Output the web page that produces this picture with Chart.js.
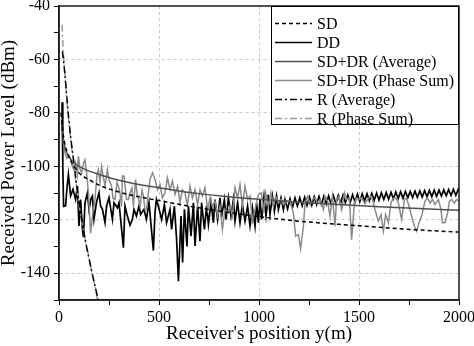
<!DOCTYPE html>
<html><head><meta charset="utf-8">
<script src="https://cdn.jsdelivr.net/npm/chart.js@4/dist/chart.umd.min.js"></script>
<style>html,body{margin:0;padding:0;background:#fff;}canvas{display:block;}</style>
</head><body>
<canvas id="c" width="474" height="346"></canvas>
<script>
// ---- data ----
const seriesNames = ["SD", "DD", "SD+DR (Average)", "SD+DR (Phase Sum)", "R (Average)", "R (Phase Sum)"];
const xTickLabels = [0, 500, 1000, 1500, 2000];
const yTickLabels = [-40, -60, -80, -100, -120, -140];

const sdX = [10, 15, 20, 30, 40, 50, 75, 100, 150, 200, 300, 400, 500, 600, 700, 800, 900, 1000, 1100, 1200, 1400, 1600, 1800, 2000];
const sdY = [-80, -84, -87.5, -92, -94.5, -96.5, -100, -102.5, -105, -107, -109.6, -111.4, -112.8, -114.2, -115.5, -116.7, -117.8, -118.8, -119.7, -120.5, -121.7, -122.8, -123.8, -124.6];

const ddX = [15, 19, 23, 33, 40, 47, 58, 70, 83, 92, 100, 108, 117, 122, 130, 142, 150, 160, 167, 175, 187, 200, 208, 217, 230, 238, 250, 267, 275, 292, 300, 322, 330, 342, 355, 367, 375, 387, 400, 408, 425, 437, 450, 472, 480, 487,
  497, 513, 527, 538, 555, 563, 577, 588, 597, 610, 618, 627, 640, 647, 660, 672, 680, 693, 705, 713, 727, 738, 747, 760, 772, 780, 793, 805, 813, 827, 835, 847, 860, 872, 880, 893, 905, 917, 930, 943, 955, 967, 980,
  988, 997, 1005, 1013, 1025, 1035, 1047, 1055, 1067, 1077, 1088, 1097, 1110, 1122, 1130, 1143, 1155, 1167, 1180,
  1192, 1204, 1216, 1228, 1240, 1252, 1264, 1276, 1288, 1300, 1312, 1324, 1336, 1348, 1360, 1372, 1384, 1396, 1408, 1420, 1432, 1444, 1456, 1468, 1480, 1492,
  1504, 1516, 1528, 1540, 1552, 1564, 1576, 1588, 1600, 1612, 1624, 1636, 1648, 1660, 1672, 1684, 1696, 1708, 1720, 1732, 1744, 1756, 1768, 1780, 1792,
  1804, 1816, 1828, 1840, 1852, 1864, 1876, 1888, 1900, 1912, 1924, 1936, 1948, 1960, 1972, 1984, 1996, 2000];
const ddY = [-76, -100, -115, -114.8, -108, -103, -111, -108.6, -112.4, -107.4, -122.3, -112.4, -123.5, -126.5, -113.6, -109.9, -116.1, -112, -111.1, -119.8, -113.6, -109.9, -114.8, -116, -121, -114.8, -111.7, -119.8, -113.6, -115.5, -113.6, -130.4, -114.8, -118.6, -122, -119.8, -116.1, -118.6, -114.8, -118, -116.1, -119.8, -113.6, -131.5, -117.3, -112.4,
  -114.9, -119.9, -114.3, -121.1, -116.1, -123.6, -114.9, -127.3, -143, -118.6, -136, -116.1, -130, -114.9, -126.1, -113.6, -129.8, -114.9, -128, -113.6, -123.6, -114.9, -121.7, -113.6, -121.1, -112.4, -119.9, -111.8, -118.6, -112.4, -119.9, -111.8, -118.6, -112.4, -120.5, -113.6, -121.1, -114.3, -120.5, -114.9, -122.3, -115.5, -122.4,
  -113.7, -121.1, -112.4, -119.9, -111.2, -118.6, -110.6, -118, -111.2, -116.8, -111.2, -116.2, -111.8, -116.2, -112.4, -115.9, -112.2, -115.5, -111.8,
  -114.8, -111.7, -114.7, -111.6, -114.6, -111.5, -114.5, -111.4, -114.4, -111.3, -114.2, -111.2, -114.1, -111.1, -114.0, -111.0, -113.9, -110.9, -113.8, -110.8, -113.6, -110.7, -113.5, -110.6, -113.3, -110.4,
  -113.2, -110.3, -113.0, -110.2, -112.9, -110.1, -112.7, -110.0, -112.6, -109.9, -112.4, -109.8, -112.3, -109.7, -112.1, -109.6, -112.0, -109.5, -111.9, -109.4, -111.8, -109.4, -111.7, -109.3, -111.6,
  -109.2, -111.5, -109.1, -111.4, -109.0, -111.3, -108.9, -111.2, -108.9, -111.1, -108.8, -111.0, -108.7, -110.9, -108.6, -110.8, -108.6, -109.5];

const avgX = [12, 20, 30, 40, 60, 80, 100, 150, 200, 300, 400, 500, 600, 700, 800, 900, 1000, 1200, 1400, 1600, 1800, 2000];
const avgY = [-84, -89, -93, -95, -97.5, -99, -100, -101.8, -103, -105.2, -106.8, -108, -109.2, -110.2, -111, -111.7, -112.3, -113.4, -114.3, -115.1, -115.8, -116.4];

const psX = [20, 30, 40, 50, 58, 67, 75, 83, 92, 97, 105, 113, 122, 130, 140, 147, 158, 168, 180, 190, 197, 205, 213, 222, 230, 242, 250, 263, 270, 280, 290, 297, 305, 313, 317, 325, 338, 347, 355, 365, 372, 383, 390, 398, 405, 415, 422, 430, 438, 445, 455, 468, 480,
  493, 505, 517, 530, 542, 555, 567, 580, 593, 605, 617, 630, 642, 655, 667, 680, 693, 705, 717, 730, 743, 755, 767, 780, 793, 805, 817, 830, 843, 855, 867, 880, 893, 905, 917, 930, 943, 955, 967, 980,
  997, 1013, 1022, 1033, 1047, 1060, 1072, 1083, 1097, 1110, 1122, 1138, 1155, 1172, 1183, 1197, 1208, 1222, 1230, 1243, 1255, 1267, 1280, 1293, 1305, 1322, 1330, 1343, 1355, 1367, 1380, 1388, 1400, 1413, 1427, 1438, 1452, 1463, 1477, 1488,
  1500, 1513, 1530, 1547, 1563, 1580, 1597, 1610, 1622, 1633, 1647, 1660, 1672, 1683, 1697, 1713, 1727, 1738, 1750, 1763, 1777, 1788, 1800, 1813, 1830, 1843, 1855, 1867, 1880, 1897, 1910, 1917, 1930, 1943, 1952, 1963, 1977, 1988, 2000];
const psY = [-90, -95, -97, -96, -97.4, -100, -101.2, -98.7, -103, -96.2, -101, -102.4, -99, -97.5, -104, -109.9, -125, -118, -112.4, -103, -101.2, -106, -100, -104, -107.4, -101.2, -105, -107.4, -112, -112.4, -106, -107.4, -110, -114.9, -103.6, -103.7, -112.4, -112.4, -109.9, -108, -114.9, -104.9, -110, -112.4, -114.9, -109, -111.1, -116.1, -116.1, -111, -104.9, -102.4, -104.9,
  -108.7, -106.8, -111.8, -109.9, -104.3, -108.7, -105.5, -110.5, -107.4, -113.6, -108.7, -109.9, -114.9, -107.4, -111.8, -108.7, -114.3, -108.7, -111.1, -108, -116.1, -111.8, -114.9, -113, -118.6, -114.9, -123.6, -116.1, -117.4, -114.9, -118.6, -108, -111.8, -106.8, -114.9, -107.4, -112.4, -111.1, -120.5, -116.1,
  -110.6, -109.9, -117.4, -109.9, -114.9, -109.9, -114.9, -111.2, -113.7, -112.4, -114.3, -113, -113, -117.4, -126.1, -125.5, -130.8, -122.4, -113.7, -111.2, -114.3, -112.4, -111.8, -113.7, -112.4, -116.2, -111.2, -113, -118.6, -111.2, -122.4, -112.4, -111.2, -116.2, -109.9, -112.4, -111.8, -127.4, -113.7, -111.8,
  -112.4, -111.8, -114, -112, -111.2, -116.2, -120.5, -118, -124.2, -118, -121.1, -113.7, -111.8, -111.8, -113.7, -119.9, -112.4, -111.8, -114.9, -118.6, -122.4, -124.2, -121.1, -118.6, -113, -111.8, -113.7, -112.4, -114.3, -112.4, -116.2, -121.1, -121.1, -117.4, -113, -112.4, -113.7, -112.4, -113];

const rAvgX = [17, 22, 30, 40, 50, 60, 70, 85, 100, 130, 160, 190, 205];
const rAvgY = [-57, -60, -66, -75, -83, -90, -96, -105, -113, -127, -138, -148, -153];

const rPsX = [15, 20, 30, 40, 50, 60, 75, 90, 110, 130, 150, 165, 180, 195];
const rPsY = [-47, -55, -66, -76, -84, -91, -100, -109, -119, -127, -134, -140, -145, -151];

// ---- build datasets ----
const pts = (xs, ys) => xs.map((x, i) => ({x: x, y: ys[i]}));
const SERIF = '"Liberation Serif", "Times New Roman", serif';
Chart.defaults.font.family = SERIF;
Chart.defaults.color = '#000';

const datasets = [
  {label: seriesNames[0], data: pts(sdX, sdY), borderColor: '#000', borderWidth: 1.5, borderDash: [4, 3], cubicInterpolationMode: 'monotone', order: 1},
  {label: seriesNames[1], data: pts(ddX, ddY), borderColor: '#000', borderWidth: 1.7, borderDash: [], tension: 0, order: 4},
  {label: seriesNames[2], data: pts(avgX, avgY), borderColor: '#505050', borderWidth: 1.5, borderDash: [], cubicInterpolationMode: 'monotone', order: 2},
  {label: seriesNames[3], data: pts(psX, psY), borderColor: '#8a8a8a', borderWidth: 1.5, borderDash: [], tension: 0, order: 3},
  {label: seriesNames[4], data: pts(rAvgX, rAvgY), borderColor: '#000', borderWidth: 1.5, borderDash: [7, 3, 2, 3], cubicInterpolationMode: 'monotone', order: 0},
  {label: seriesNames[5], data: pts(rPsX, rPsY), borderColor: '#9a9a9a', borderWidth: 1.5, borderDash: [7, 3, 2, 3], cubicInterpolationMode: 'monotone', order: 0}
];
datasets.forEach(d => { d.pointRadius = 0; d.fill = false; });

const framePlugin = {
  id: 'frameAndLegend',
  afterDraw(chart) {
    const ctx = chart.ctx, ca = chart.chartArea;
    ctx.save();
    ctx.strokeStyle = '#1a1a1a';
    ctx.lineWidth = 1.5;
    ctx.strokeRect(ca.left, ca.top, ca.right - ca.left, ca.bottom - ca.top);
    // legend box
    const bx0 = ca.right - 188, by0 = ca.top, bx1 = ca.right, by1 = ca.top + 119;
    ctx.fillStyle = '#fff';
    ctx.fillRect(bx0, by0, bx1 - bx0, by1 - by0);
    ctx.lineWidth = 1;
    ctx.strokeStyle = '#000';
    ctx.strokeRect(bx0 + 0.5, by0 + 0.5, bx1 - bx0 - 1, by1 - by0 - 1);
    ctx.font = '16px ' + SERIF;
    ctx.textBaseline = 'middle';
    ctx.textAlign = 'left';
    chart.data.datasets.forEach((d, i) => {
      const y = by0 + 17.5 + i * 19;
      ctx.strokeStyle = d.borderColor;
      ctx.lineWidth = d.borderWidth;
      ctx.setLineDash(d.borderDash || []);
      ctx.beginPath();
      ctx.moveTo(bx0 + 4, y);
      ctx.lineTo(bx0 + 41, y);
      ctx.stroke();
      ctx.setLineDash([]);
      ctx.fillStyle = '#000';
      ctx.fillText(d.label, bx0 + 46, y + 1);
    });
    ctx.restore();
  }
};

new Chart(document.getElementById('c'), {
  type: 'line',
  data: {datasets: datasets},
  options: {
    responsive: false,
    animation: false,
    devicePixelRatio: 1,
    layout: {padding: {top: 6, right: 15, left: 0, bottom: 0}},
    plugins: {legend: {display: false}, tooltip: {enabled: false}},
    scales: {
      x: {
        type: 'linear', min: 0, max: 2000,
        ticks: {
          stepSize: 250, autoSkip: false, maxRotation: 0, padding: 3,
          font: {size: 16},
          callback: v => xTickLabels.includes(v) ? String(v) : ''
        },
        grid: {
          color: c => (c.tick && xTickLabels.includes(c.tick.value) && c.tick.value !== 0 && c.tick.value !== 2000) ? '#c8c8c8' : 'rgba(0,0,0,0)',
          lineWidth: 1, tickLength: 5, tickColor: '#000', tickWidth: 1, tickBorderDash: []
        },
        border: {display: true, color: '#1a1a1a', width: 1.5, dash: [3, 3]},
        title: {display: true, text: "Receiver's position y(m)", font: {size: 19, lineHeight: 1.2}, padding: {top: 0, bottom: 1}},
        afterFit: s => { s.height = 46; s.paddingLeft = 0; s.paddingRight = 0; }
      },
      y: {
        type: 'linear', min: -150, max: -40,
        ticks: {
          stepSize: 10, autoSkip: false, padding: 4,
          font: {size: 16},
          callback: v => yTickLabels.includes(v) ? String(v) : ''
        },
        grid: {
          color: c => (c.tick && yTickLabels.includes(c.tick.value) && c.tick.value !== -40) ? '#c8c8c8' : 'rgba(0,0,0,0)',
          lineWidth: 1, tickLength: 5, tickColor: '#000', tickWidth: 1, tickBorderDash: []
        },
        border: {display: true, color: '#1a1a1a', width: 1.5, dash: [3, 3]},
        title: {display: true, text: 'Received Power Level (dBm)', font: {size: 19, lineHeight: 1.0}, padding: {top: 0, bottom: 0}},
        afterFit: s => { s.width = 59; s.paddingTop = 0; s.paddingBottom = 0; }
      }
    }
  },
  plugins: [framePlugin]
});
</script>
</body></html>
